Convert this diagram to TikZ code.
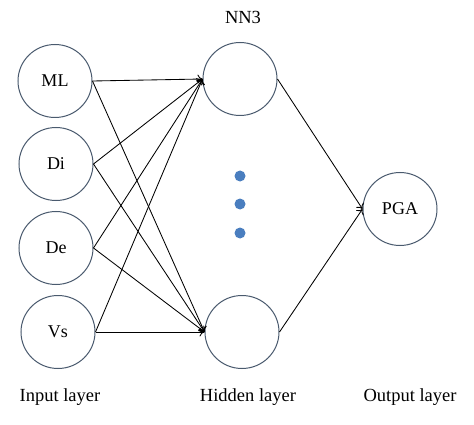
\documentclass[tikz,border=0pt]{standalone}
\usepackage{fontspec}
\setmainfont{Liberation Serif}
\usetikzlibrary{shapes.geometric,arrows.meta}
\definecolor{ring}{HTML}{4A5A6E}
\definecolor{dotblue}{HTML}{4A7EBF}
\begin{document}
\begin{tikzpicture}[x=1pt,y=-1pt,
  neuron/.style={ellipse,draw=ring,line width=1pt,minimum width=74pt,minimum height=73pt,inner sep=0pt,font=\fontsize{18}{20}\selectfont},
  lbl/.style={font=\fontsize{18.5}{20}\selectfont,inner sep=0pt},
  conn/.style={line width=0.85pt,-{To[length=5pt,width=9pt]}},
  dotn/.style={circle,fill=dotblue,minimum size=11pt,inner sep=0pt}]
\useasboundingbox (0,0) rectangle (474,425);
\node[neuron] (ml) at (55,81) {ML};
\node[neuron] (di) at (56,164) {Di};
\node[neuron] (de) at (56,248) {De};
\node[neuron] (vs) at (58,332) {Vs};
\node[neuron] (h1) at (240,79) {};
\node[neuron] (h2) at (242,332) {};
\node[neuron] (pga) at (400,209) {PGA};
\node[dotn] (d1) at (240,176) {};
\node[dotn] (d2) at (240,204) {};
\node[dotn] (d3) at (240,233) {};
\node[lbl] (nn3) at (243,17) {NN3};
\node[lbl] (inl) at (60,397) {Input layer};
\node[lbl] (hil) at (248,397) {Hidden layer};
\node[lbl] (oul) at (410,397) {Output layer};
\foreach \s in {ml,di,de,vs}{
  \draw[conn] (\s.east) -- (h1.west);
  \draw[conn] (\s.east) -- (h2.west);
}
\draw[conn] (h1.east) -- (pga.west);
\draw[conn] (h2.east) -- (pga.west);
\end{tikzpicture}
\end{document}
